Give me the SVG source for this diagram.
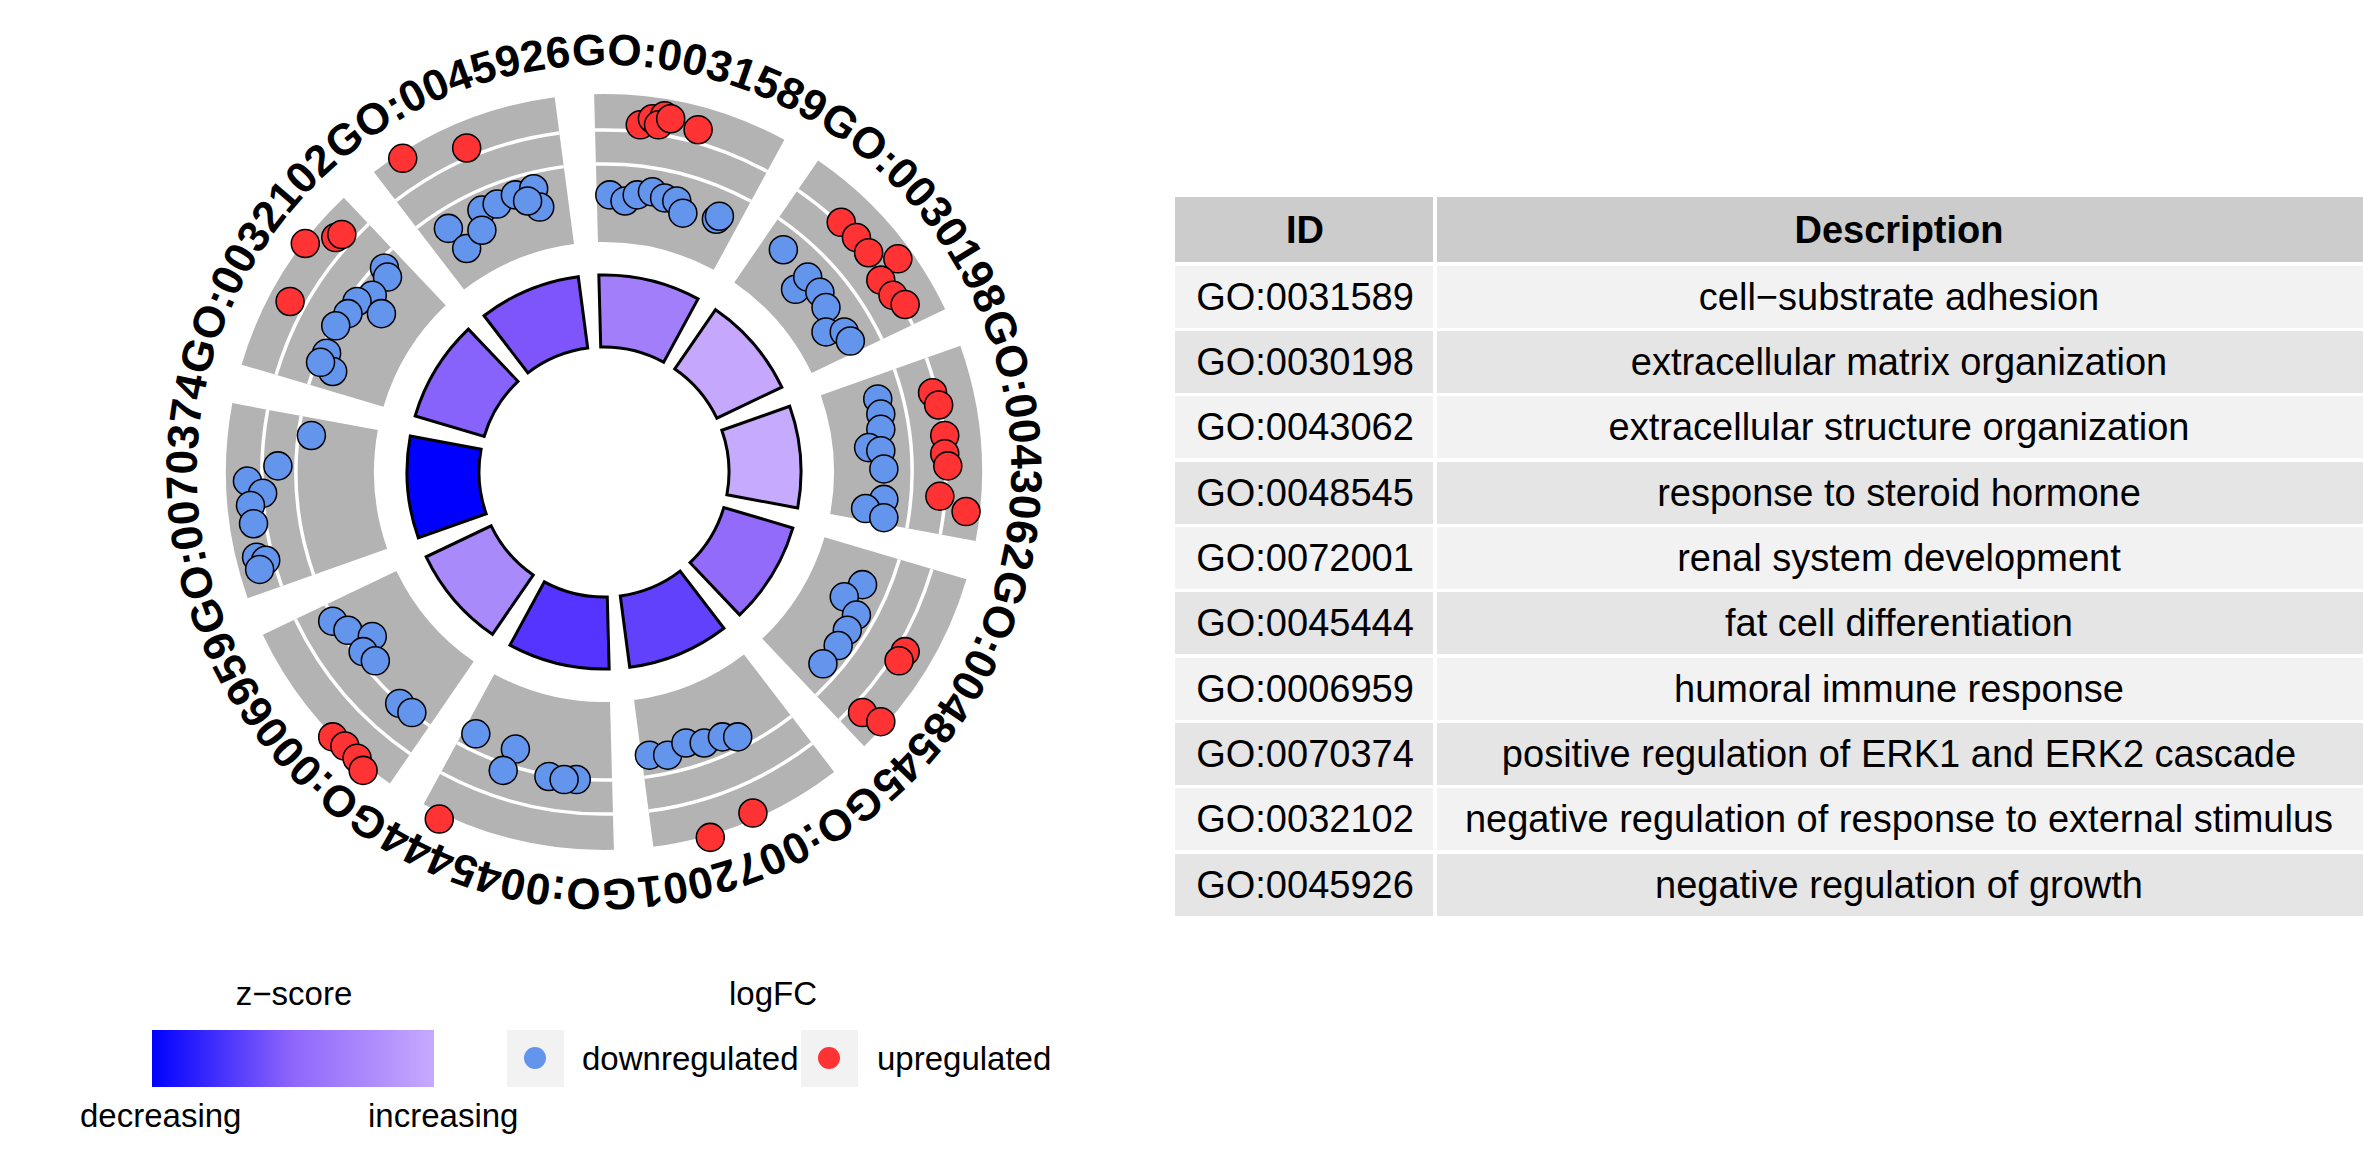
<svg xmlns="http://www.w3.org/2000/svg" xmlns:xlink="http://www.w3.org/1999/xlink" width="2363" height="1165" viewBox="0 0 2363 1165">
<style>
.lbl{font-family:"Liberation Sans",Arial,sans-serif;font-weight:bold;font-size:44px;fill:#000}
.t{font-family:"Liberation Sans",Arial,sans-serif;font-size:38px;fill:#000;text-anchor:middle}
.th{font-family:"Liberation Sans",Arial,sans-serif;font-size:38px;font-weight:bold;fill:#000;text-anchor:middle}
.lg{font-family:"Liberation Sans",Arial,sans-serif;font-size:33px;fill:#000}
.up{fill:#FF3333;stroke:#000;stroke-width:2.5}
.dn{fill:#6495ED;stroke:#000;stroke-width:2.5}
.r1{fill:#F2F2F2}.r2{fill:#E5E5E5}
</style>
<defs>
<path id="bar" d="M598.84,275.07 A197,197 0 0 1 698.0,298.87 L663.65,362.15 A125,125 0 0 0 600.73,347.04 Z" stroke="#000" stroke-width="3"/>
<g id="gray">
<path d="M594.10,94.13 A378,378 0 0 1 784.37,139.81 L713.75,269.87 A230,230 0 0 0 597.98,242.08 Z" fill="#B3B3B3"/>
<path d="M595.94,164.10 A308,308 0 0 1 750.97,201.32 M595.05,130.12 A342,342 0 0 1 767.19,171.44" fill="none" stroke="#fff" stroke-width="3.5"/>
</g>
<path id="circ" d="M635.93,877.75 A407,407 0 1 1 572.07,66.25 A407,407 0 1 1 635.93,877.75"/>
<linearGradient id="zg" x1="0" x2="1" y1="0" y2="0">
<stop offset="0" stop-color="#0000FF"/><stop offset="0.5" stop-color="#8F66FB"/><stop offset="1" stop-color="#C6AAFD"/>
</linearGradient>
</defs>
<rect width="2363" height="1165" fill="#fff"/>
<g id="outer-ring">
<use xlink:href="#gray"/>
<use xlink:href="#gray" transform="rotate(36 604 472)"/>
<use xlink:href="#gray" transform="rotate(72 604 472)"/>
<use xlink:href="#gray" transform="rotate(108 604 472)"/>
<use xlink:href="#gray" transform="rotate(144 604 472)"/>
<use xlink:href="#gray" transform="rotate(180 604 472)"/>
<use xlink:href="#gray" transform="rotate(216 604 472)"/>
<use xlink:href="#gray" transform="rotate(252 604 472)"/>
<use xlink:href="#gray" transform="rotate(288 604 472)"/>
<use xlink:href="#gray" transform="rotate(324 604 472)"/>
</g>
<g id="bars">
<use xlink:href="#bar" fill="#A37EFB"/>
<use xlink:href="#bar" fill="#C5A8FD" transform="rotate(36 604 472)"/>
<use xlink:href="#bar" fill="#C6AAFD" transform="rotate(72 604 472)"/>
<use xlink:href="#bar" fill="#926BFB" transform="rotate(108 604 472)"/>
<use xlink:href="#bar" fill="#6141FC" transform="rotate(144 604 472)"/>
<use xlink:href="#bar" fill="#5434FE" transform="rotate(180 604 472)"/>
<use xlink:href="#bar" fill="#A98AFB" transform="rotate(216 604 472)"/>
<use xlink:href="#bar" fill="#0000FF" transform="rotate(252 604 472)"/>
<use xlink:href="#bar" fill="#8762FB" transform="rotate(288 604 472)"/>
<use xlink:href="#bar" fill="#7D55FB" transform="rotate(324 604 472)"/>
</g>
<g id="dots" transform="translate(150,0) scale(0.609)">
<g class="up">
<circle cx="805" cy="205" r="23"/><circle cx="825" cy="195" r="23"/><circle cx="845" cy="190" r="23"/><circle cx="835" cy="205" r="23"/><circle cx="855" cy="195" r="23"/><circle cx="900" cy="213" r="23"/>
<circle cx="1135" cy="365" r="23"/><circle cx="1160" cy="390" r="23"/><circle cx="1180" cy="415" r="23"/><circle cx="1228" cy="425" r="23"/><circle cx="1200" cy="460" r="23"/><circle cx="1220" cy="485" r="23"/><circle cx="1240" cy="500" r="23"/>
<circle cx="1285" cy="645" r="23"/><circle cx="1295" cy="665" r="23"/><circle cx="1305" cy="715" r="23"/><circle cx="1305" cy="745" r="23"/><circle cx="1310" cy="765" r="23"/><circle cx="1297" cy="815" r="23"/><circle cx="1340" cy="840" r="23"/>
<circle cx="1240" cy="1070" r="23"/><circle cx="1230" cy="1085" r="23"/><circle cx="1170" cy="1170" r="23"/><circle cx="1200" cy="1185" r="23"/>
<circle cx="990" cy="1335" r="23"/><circle cx="920" cy="1375" r="23"/>
<circle cx="475" cy="1345" r="23"/>
<circle cx="300" cy="1210" r="23"/><circle cx="320" cy="1225" r="23"/><circle cx="340" cy="1245" r="23"/><circle cx="350" cy="1265" r="23"/>
<circle cx="255" cy="400" r="23"/><circle cx="305" cy="390" r="23"/><circle cx="315" cy="385" r="23"/><circle cx="230" cy="495" r="23"/>
<circle cx="415" cy="260" r="23"/><circle cx="520" cy="243" r="23"/>
</g>
<g class="dn">
<circle cx="755" cy="320" r="23"/><circle cx="780" cy="330" r="23"/><circle cx="800" cy="320" r="23"/><circle cx="825" cy="315" r="23"/><circle cx="845" cy="325" r="23"/><circle cx="865" cy="330" r="23"/><circle cx="875" cy="350" r="23"/><circle cx="930" cy="360" r="23"/><circle cx="935" cy="355" r="23"/>
<circle cx="1040" cy="410" r="23"/><circle cx="1060" cy="475" r="23"/><circle cx="1080" cy="455" r="23"/><circle cx="1100" cy="480" r="23"/><circle cx="1110" cy="505" r="23"/><circle cx="1110" cy="545" r="23"/><circle cx="1140" cy="545" r="23"/><circle cx="1150" cy="560" r="23"/>
<circle cx="1195" cy="655" r="23"/><circle cx="1200" cy="680" r="23"/><circle cx="1200" cy="705" r="23"/><circle cx="1180" cy="735" r="23"/><circle cx="1200" cy="740" r="23"/><circle cx="1205" cy="770" r="23"/><circle cx="1205" cy="820" r="23"/><circle cx="1175" cy="835" r="23"/><circle cx="1205" cy="850" r="23"/>
<circle cx="1170" cy="960" r="23"/><circle cx="1140" cy="980" r="23"/><circle cx="1160" cy="1010" r="23"/><circle cx="1145" cy="1035" r="23"/><circle cx="1130" cy="1060" r="23"/><circle cx="1105" cy="1090" r="23"/>
<circle cx="820" cy="1240" r="23"/><circle cx="850" cy="1240" r="23"/><circle cx="880" cy="1220" r="23"/><circle cx="910" cy="1220" r="23"/><circle cx="940" cy="1210" r="23"/><circle cx="965" cy="1210" r="23"/>
<circle cx="535" cy="1205" r="23"/><circle cx="600" cy="1230" r="23"/><circle cx="580" cy="1265" r="23"/><circle cx="655" cy="1275" r="23"/><circle cx="700" cy="1280" r="23"/><circle cx="680" cy="1280" r="23"/>
<circle cx="300" cy="1020" r="23"/><circle cx="325" cy="1035" r="23"/><circle cx="365" cy="1045" r="23"/><circle cx="350" cy="1070" r="23"/><circle cx="370" cy="1085" r="23"/><circle cx="410" cy="1155" r="23"/><circle cx="430" cy="1170" r="23"/>
<circle cx="265" cy="715" r="23"/><circle cx="210" cy="765" r="23"/><circle cx="160" cy="790" r="23"/><circle cx="185" cy="810" r="23"/><circle cx="165" cy="830" r="23"/><circle cx="170" cy="860" r="23"/><circle cx="175" cy="915" r="23"/><circle cx="190" cy="920" r="23"/><circle cx="180" cy="935" r="23"/>
<circle cx="385" cy="440" r="23"/><circle cx="390" cy="455" r="23"/><circle cx="365" cy="485" r="23"/><circle cx="340" cy="495" r="23"/><circle cx="325" cy="515" r="23"/><circle cx="305" cy="535" r="23"/><circle cx="380" cy="515" r="23"/><circle cx="290" cy="580" r="23"/><circle cx="300" cy="610" r="23"/><circle cx="280" cy="595" r="23"/>
<circle cx="490" cy="375" r="23"/><circle cx="520" cy="408" r="23"/><circle cx="545" cy="345" r="23"/><circle cx="545" cy="378" r="23"/><circle cx="570" cy="335" r="23"/><circle cx="600" cy="320" r="23"/><circle cx="630" cy="310" r="23"/><circle cx="640" cy="340" r="23"/><circle cx="620" cy="330" r="23"/>
</g>
</g>
<g id="labels" class="lbl" text-anchor="middle">
<text><textPath xlink:href="#circ" startOffset="55%">GO:0031589</textPath></text>
<text><textPath xlink:href="#circ" startOffset="65%">GO:0030198</textPath></text>
<text><textPath xlink:href="#circ" startOffset="75%">GO:0043062</textPath></text>
<text><textPath xlink:href="#circ" startOffset="85%">GO:0048545</textPath></text>
<text><textPath xlink:href="#circ" startOffset="95%">GO:0072001</textPath></text>
<text><textPath xlink:href="#circ" startOffset="5%">GO:0045444</textPath></text>
<text><textPath xlink:href="#circ" startOffset="15%">GO:0006959</textPath></text>
<text><textPath xlink:href="#circ" startOffset="25%">GO:0070374</textPath></text>
<text><textPath xlink:href="#circ" startOffset="35%">GO:0032102</textPath></text>
<text><textPath xlink:href="#circ" startOffset="45%">GO:0045926</textPath></text>
</g>
<g id="table">
<rect x="1175" y="197" width="258" height="65" fill="#CCCCCC"/><rect x="1437" y="197" width="926" height="65" fill="#CCCCCC"/>
<text class="th" x="1305" y="243">ID</text><text class="th" x="1899" y="243">Description</text>
<g class="r1"><rect x="1175" y="266" width="258" height="62"/><rect x="1437" y="266" width="926" height="62"/></g>
<g class="r2"><rect x="1175" y="331" width="258" height="62"/><rect x="1437" y="331" width="926" height="62"/></g>
<g class="r1"><rect x="1175" y="396" width="258" height="62"/><rect x="1437" y="396" width="926" height="62"/></g>
<g class="r2"><rect x="1175" y="462" width="258" height="62"/><rect x="1437" y="462" width="926" height="62"/></g>
<g class="r1"><rect x="1175" y="527" width="258" height="62"/><rect x="1437" y="527" width="926" height="62"/></g>
<g class="r2"><rect x="1175" y="592" width="258" height="62"/><rect x="1437" y="592" width="926" height="62"/></g>
<g class="r1"><rect x="1175" y="658" width="258" height="62"/><rect x="1437" y="658" width="926" height="62"/></g>
<g class="r2"><rect x="1175" y="723" width="258" height="62"/><rect x="1437" y="723" width="926" height="62"/></g>
<g class="r1"><rect x="1175" y="788" width="258" height="62"/><rect x="1437" y="788" width="926" height="62"/></g>
<g class="r2"><rect x="1175" y="854" width="258" height="62"/><rect x="1437" y="854" width="926" height="62"/></g>
<text class="t" x="1305" y="310">GO:0031589</text><text class="t" x="1899" y="310">cell−substrate adhesion</text>
<text class="t" x="1305" y="375">GO:0030198</text><text class="t" x="1899" y="375">extracellular matrix organization</text>
<text class="t" x="1305" y="440">GO:0043062</text><text class="t" x="1899" y="440">extracellular structure organization</text>
<text class="t" x="1305" y="506">GO:0048545</text><text class="t" x="1899" y="506">response to steroid hormone</text>
<text class="t" x="1305" y="571">GO:0072001</text><text class="t" x="1899" y="571">renal system development</text>
<text class="t" x="1305" y="636">GO:0045444</text><text class="t" x="1899" y="636">fat cell differentiation</text>
<text class="t" x="1305" y="702">GO:0006959</text><text class="t" x="1899" y="702">humoral immune response</text>
<text class="t" x="1305" y="767">GO:0070374</text><text class="t" x="1899" y="767">positive regulation of ERK1 and ERK2 cascade</text>
<text class="t" x="1305" y="832">GO:0032102</text><text class="t" x="1899" y="832">negative regulation of response to external stimulus</text>
<text class="t" x="1305" y="898">GO:0045926</text><text class="t" x="1899" y="898">negative regulation of growth</text>
</g>
<g id="legend">
<text class="lg" x="294" y="1005" text-anchor="middle">z−score</text>
<rect x="152" y="1030" width="282" height="57" fill="url(#zg)"/>
<text class="lg" x="80" y="1127">decreasing</text>
<text class="lg" x="368" y="1127">increasing</text>
<text class="lg" x="773" y="1005" text-anchor="middle">logFC</text>
<rect x="507" y="1030" width="57" height="57" fill="#F2F2F2"/>
<circle cx="535" cy="1058" r="11" fill="#6495ED"/>
<text class="lg" x="582" y="1070">downregulated</text>
<rect x="801" y="1030" width="57" height="57" fill="#F2F2F2"/>
<circle cx="829" cy="1058" r="11" fill="#FF3333"/>
<text class="lg" x="877" y="1070">upregulated</text>
</g>
</svg>
